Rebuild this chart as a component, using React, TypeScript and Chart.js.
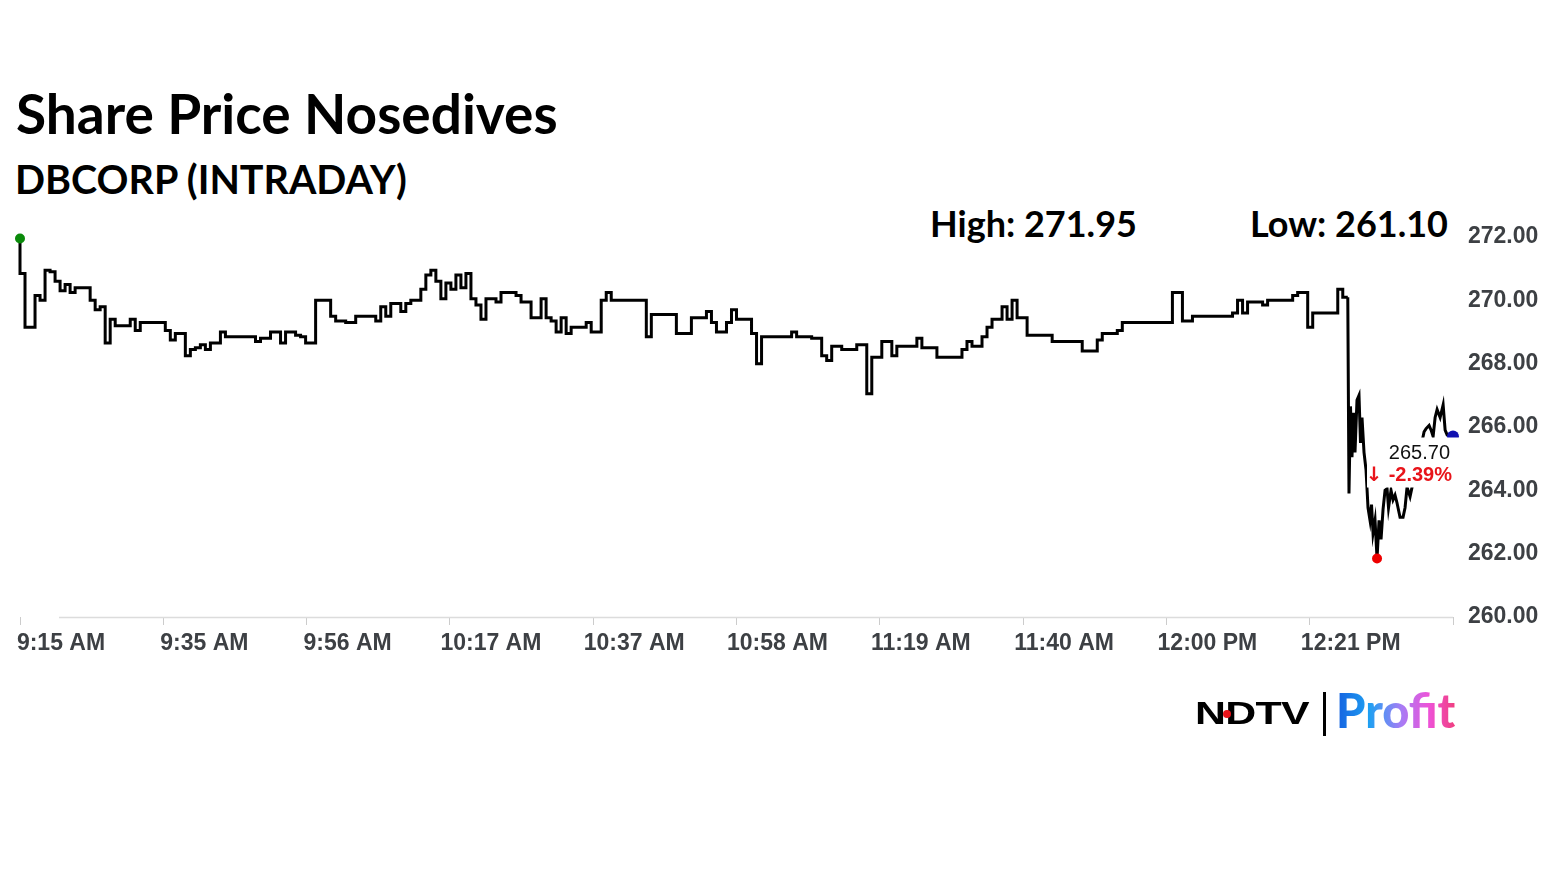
import React, { useEffect, useRef } from 'react';
import { Chart, registerables } from 'chart.js';

Chart.register(...registerables);

// ---- Data ----
// Calm part of the session: one price per sampling slot (slot 0 = 9:15 AM)
const prices: number[] = [
  271.95, 270.85, 269.15, 269.15, 270.15, 270.0, 270.95, 270.9, 270.6, 270.3,
  270.5, 270.25, 270.4, 270.4, 270.4, 270.0, 269.7, 269.8, 268.65, 269.4,
  269.2, 269.2, 269.2, 269.4, 269.05, 269.3, 269.3, 269.3, 269.3, 269.3,
  269.05, 268.75, 268.95, 268.95, 268.25, 268.45, 268.5, 268.6, 268.45, 268.65,
  268.65, 269.0, 268.85, 268.85, 268.85, 268.85, 268.85, 268.85, 268.7, 268.8,
  268.8, 269.0, 269.0, 268.65, 269.0, 269.0, 268.9, 268.85, 268.65, 268.65,
  270.0, 270.0, 270.0, 269.5, 269.35, 269.35, 269.3, 269.3, 269.5, 269.5,
  269.5, 269.5, 269.35, 269.8, 269.5, 269.9, 269.9, 269.65, 269.9, 270.0,
  270.0, 270.35, 270.8, 270.95, 270.6, 270.05, 270.55, 270.35, 270.8, 270.4,
  270.85, 270.05, 269.85, 269.4, 270.05, 270.05, 269.95, 270.25, 270.25, 270.25,
  270.15, 269.95, 269.95, 269.45, 269.45, 270.05, 269.45, 269.35, 269.0, 269.45,
  268.95, 269.15, 269.15, 269.15, 269.3, 269.0, 269.0, 270.0, 270.25, 270.0,
  270.0, 270.0, 270.0, 270.0, 270.0, 270.0, 268.85, 269.55, 269.55, 269.55,
  269.55, 269.55, 268.95, 268.95, 268.95, 269.45, 269.45, 269.45, 269.65, 269.3,
  269.0, 269.0, 269.3, 269.7, 269.4, 269.4, 269.4, 268.95, 268.0, 268.85,
  268.85, 268.85, 268.85, 268.85, 268.85, 269.0, 268.85, 268.85, 268.85, 268.8,
  268.8, 268.25, 268.1, 268.55, 268.55, 268.45, 268.45, 268.45, 268.6, 268.6,
  267.05, 268.2, 268.2, 268.7, 268.7, 268.25, 268.55, 268.55, 268.55, 268.55,
  268.8, 268.5, 268.5, 268.5, 268.2, 268.2, 268.2, 268.2, 268.2, 268.45,
  268.7, 268.55, 268.55, 268.85, 269.15, 269.4, 269.4, 269.8, 269.4, 270.0,
  269.45, 269.45, 268.9, 268.9, 268.9, 268.9, 268.9, 268.7, 268.7, 268.7,
  268.7, 268.7, 268.7, 268.4, 268.4, 268.4, 268.75, 268.95, 268.95, 268.95,
  269.05, 269.3, 269.3, 269.3, 269.3, 269.3, 269.3, 269.3, 269.3, 269.3,
  269.3, 270.25, 270.25, 269.35, 269.35, 269.5, 269.5, 269.5, 269.5, 269.5,
  269.5, 269.5, 269.5, 269.6, 270.0, 269.6, 269.95, 269.95, 269.95, 269.85,
  270.0, 270.0, 270.0, 270.0, 270.0, 270.15, 270.25, 270.25, 269.15, 269.6,
  269.6, 269.6, 269.6, 269.6, 270.35, 270.1,
];

// Volatile tail after the nosedive: sample slot positions and prices
const tailSlots: number[] = [
  265.0, 265.24, 265.54, 265.84, 266.14, 266.44, 266.84, 267.24, 267.54, 267.84,
  268.24, 268.64, 269.04, 269.44, 269.74, 270.04, 270.44, 270.84, 271.24, 271.64,
  272.04, 272.44, 272.84, 273.13, 273.63, 274.03, 274.43, 274.83, 275.43, 276.03,
  276.43, 276.83, 277.43, 277.83, 279.03, 280.23, 280.63, 281.23, 281.63, 282.03,
  282.43, 282.83, 283.43, 284.03, 284.43, 284.83, 286.0,
];
const tailPrices: number[] = [
  270.1, 263.9, 266.65, 265.05, 266.45, 265.2, 266.85, 267.0, 265.5, 266.3,
  265.2, 264.65, 263.45, 263.05, 263.55, 262.65, 263.05, 261.85, 263.05, 262.45,
  263.4, 264.0, 264.05, 263.45, 264.0, 263.7, 263.85, 263.6, 263.15, 263.15,
  263.45, 264.1, 263.8, 264.1, 264.95, 265.85, 265.95, 266.05, 265.9, 265.7,
  266.3, 266.55, 266.3, 266.7, 265.9, 265.75, 265.7,
];

const totalSlots = 286;

const xTickLabels: string[] = [
  '9:15 AM', '9:35 AM', '9:56 AM', '10:17 AM', '10:37 AM',
  '10:58 AM', '11:19 AM', '11:40 AM', '12:00 PM', '12:21 PM',
];
const yTickValues: number[] = [260, 262, 264, 266, 268, 270, 272];

const titleText = 'Share Price Nosedives';
const subtitleText = 'DBCORP (INTRADAY)';
const highText = 'High: 271.95';
const lowText = 'Low: 261.10';
const lastPriceText = '265.70';
const changeArrow = '\u2193';
const changeText = '-2.39%';

const AXIS_FONT = '"Liberation Sans", Arial, sans-serif';

export default function App() {
  const canvasRef = useRef<HTMLCanvasElement | null>(null);

  useEffect(() => {
    const canvas = canvasRef.current;
    if (!canvas) return;
    const tailMin = Math.min(...tailPrices);
    const tailMinIdx = tailPrices.indexOf(tailMin);
    const tailLast = tailPrices.length - 1;
    const tickStep = totalSlots / 10;

    const calmData = prices.map((y, i) => ({ x: i, y }));
    const tailData = tailPrices.map((y, i) => ({ x: tailSlots[i], y }));

    const axisLinePlugin = {
      id: 'axisLine',
      beforeDatasetsDraw(chart: any) {
        const { ctx, chartArea } = chart;
        ctx.save();
        ctx.strokeStyle = '#dcdcdc';
        ctx.lineWidth = 1.5;
        ctx.beginPath();
        ctx.moveTo(chartArea.left + 39, chartArea.bottom + 0.5);
        ctx.lineTo(chartArea.right, chartArea.bottom + 0.5);
        ctx.stroke();
        ctx.restore();
      },
    };

    const lastLabelPlugin = {
      id: 'lastLabel',
      afterDatasetsDraw(chart: any) {
        const { ctx } = chart;
        const meta = chart.getDatasetMeta(1);
        const pt = meta.data[meta.data.length - 1];
        if (!pt) return;
        const x = pt.x;
        const y = pt.y;
        ctx.save();
        ctx.fillStyle = '#ffffff';
        ctx.fillRect(x - 86, y + 1, 92, 50);
        ctx.textAlign = 'right';
        ctx.textBaseline = 'alphabetic';
        ctx.fillStyle = '#111111';
        ctx.font = `20px ${AXIS_FONT}`;
        ctx.fillText(lastPriceText, x - 3, y + 22);
        ctx.fillStyle = '#e8141a';
        ctx.font = `bold 20px ${AXIS_FONT}`;
        ctx.fillText(changeText, x - 1, y + 44);
        const w = ctx.measureText(changeText).width;
        ctx.font = `bold 20px "DejaVu Sans", sans-serif`;
        ctx.fillText(changeArrow, x - 1 - w - 6, y + 44);
        ctx.restore();
      },
    };

    const chart = new Chart(canvas, {
      type: 'line',
      data: {
        datasets: [
          {
            data: calmData,
            borderColor: '#000000',
            borderWidth: 3,
            stepped: 'after',
            fill: false,
            tension: 0,
            clip: 10,
            pointRadius: (c: any) => (c.dataIndex === 0 ? 5 : 0),
            pointBackgroundColor: '#0a8a0a',
            pointBorderWidth: 0,
            pointHoverRadius: 0,
          } as any,
          {
            data: tailData,
            borderColor: '#000000',
            borderWidth: 3,
            borderJoinStyle: 'miter',
            fill: false,
            tension: 0,
            clip: 10,
            pointRadius: (c: any) =>
              c.dataIndex === tailMinIdx ? 5 : c.dataIndex === tailLast ? 6 : 0,
            pointBackgroundColor: (c: any) =>
              c.dataIndex === tailMinIdx ? '#ee0000' : '#1010b0',
            pointBorderWidth: 0,
            pointHoverRadius: 0,
          } as any,
        ],
      },
      options: {
        responsive: false,
        animation: false,
        events: [],
        layout: { padding: { left: 20, top: 237, right: 0, bottom: 207 } },
        plugins: { legend: { display: false }, tooltip: { enabled: false } },
        scales: {
          x: {
            type: 'linear',
            min: 0,
            max: totalSlots,
            afterBuildTicks: (s: any) => {
              s.ticks = Array.from({ length: 11 }, (_, k) => ({ value: k * tickStep }));
            },
            afterFit: (s: any) => {
              s.height = 50;
              s.paddingLeft = 0;
              s.paddingRight = 0;
            },
            grid: {
              display: true,
              drawOnChartArea: false,
              drawTicks: true,
              tickLength: 8,
              color: '#cccccc',
              lineWidth: 1,
            },
            border: { display: false },
            ticks: {
              align: 'center',
              labelOffset: 41,
              padding: 5,
              maxRotation: 0,
              autoSkip: false,
              color: '#3d4044',
              font: { family: AXIS_FONT, size: 23, weight: 'bold' },
              callback: (_v: any, i: number) => xTickLabels[i] ?? '',
            },
          },
          y: {
            position: 'right',
            min: 260,
            max: 272,
            afterBuildTicks: (s: any) => {
              s.ticks = yTickValues.map((v) => ({ value: v }));
            },
            afterFit: (s: any) => {
              s.width = 102;
            },
            grid: { display: false, drawTicks: false },
            border: { display: false },
            ticks: {
              padding: 15,
              color: '#3d4044',
              font: { family: AXIS_FONT, size: 23, weight: 'bold' },
              callback: (v: any) => Number(v).toFixed(2),
            },
          },
        },
      } as any,
      plugins: [axisLinePlugin, lastLabelPlugin],
    });

    return () => chart.destroy();
  }, []);

  const lato = 'Lato, "Noto Sans", sans-serif';

  return (
    <div
      style={{
        position: 'absolute',
        left: 0,
        top: 0,
        width: 1555,
        height: 874,
        background: '#ffffff',
        overflow: 'hidden',
      }}
    >
      <div
        style={{
          position: 'absolute', left: 16, top: 86, fontFamily: lato, fontWeight: 700,
          fontSize: 55, lineHeight: 1, color: '#000', whiteSpace: 'nowrap',
        }}
      >
        {titleText}
      </div>
      <div
        style={{
          position: 'absolute', left: 15, top: 159, fontFamily: lato, fontWeight: 700,
          fontSize: 39.5, lineHeight: 1, color: '#000', whiteSpace: 'nowrap',
        }}
      >
        {subtitleText}
      </div>
      <div
        style={{
          position: 'absolute', left: 930, top: 205, fontFamily: lato, fontWeight: 700,
          fontSize: 36, lineHeight: 1, color: '#000', whiteSpace: 'nowrap',
        }}
      >
        {highText}
      </div>
      <div
        style={{
          position: 'absolute', left: 1250, top: 205, fontFamily: lato, fontWeight: 700,
          fontSize: 36, lineHeight: 1, color: '#000', whiteSpace: 'nowrap',
        }}
      >
        {lowText}
      </div>

      <canvas
        ref={canvasRef}
        width={1555}
        height={874}
        style={{ position: 'absolute', left: 0, top: 0, width: 1555, height: 874 }}
      />

      {/* NDTV | Profit logo */}
      <div
        style={{
          position: 'absolute', left: 1195, top: 697, fontFamily: AXIS_FONT, fontWeight: 700,
          fontSize: 32, lineHeight: 1, color: '#000', whiteSpace: 'nowrap',
          transform: 'scaleX(1.34)', transformOrigin: 'left top', letterSpacing: -0.5,
        }}
      >
        NDTV
      </div>
      <div
        style={{
          position: 'absolute', left: 1223, top: 710, width: 8, height: 8,
          borderRadius: 4, background: '#e8141a',
        }}
      />
      <div
        style={{
          position: 'absolute', left: 1323, top: 692, width: 3, height: 44, background: '#000',
        }}
      />
      <div
        style={{
          position: 'absolute', left: 1336, top: 687, fontFamily: lato, fontWeight: 900,
          fontSize: 47, lineHeight: 1, whiteSpace: 'nowrap',
          background: 'linear-gradient(90deg, #1560e0 0%, #1fa0f2 28%, #a77cf5 55%, #ee52d8 78%, #f03f80 100%)',
          WebkitBackgroundClip: 'text', backgroundClip: 'text', color: 'transparent',
          WebkitTextFillColor: 'transparent',
        }}
      >
        Profit
      </div>
    </div>
  );
}
